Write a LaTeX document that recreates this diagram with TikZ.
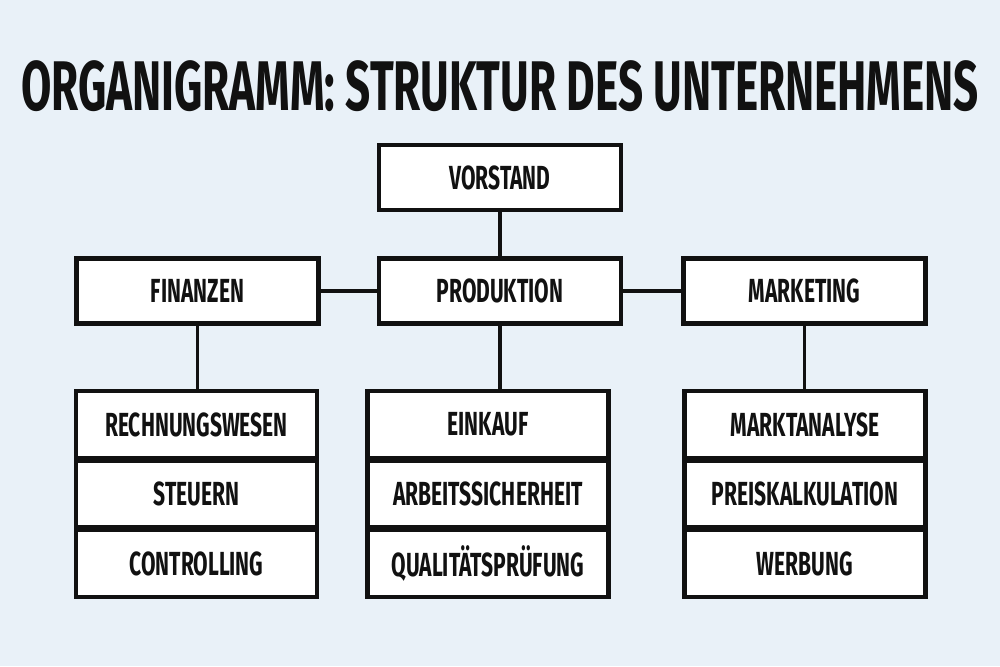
\documentclass[tikz,border=0pt]{standalone}
\usepackage{fontspec}
\setmainfont{Fira Sans}
\newfontfamily\titlefont{Fira Sans}[FakeStretch=0.625]
\newfontfamily\boxfont{Fira Sans}[FakeStretch=0.63]
\usetikzlibrary{positioning}
\definecolor{bg}{HTML}{E9F1F8}
\definecolor{ink}{HTML}{111111}
\tikzset{
  unit/.style={draw=ink, fill=white, line width=2.3pt, minimum width=48.4mm, minimum height=13mm, inner sep=0pt, text=ink, font=\boxfont\bfseries\fontsize{19}{19}\selectfont},
  cell/.style={unit, minimum width=48.2mm, minimum height=13.4mm},
  link/.style={draw=ink, line width=2pt},
  headline/.style={text=ink, font=\titlefont\bfseries\fontsize{40}{40}\selectfont},
}
\begin{document}
\begin{tikzpicture}[x=0.2mm, y=-0.2mm]
  \fill[bg] (0,0) rectangle (1000,666);
  \useasboundingbox (0,0) rectangle (1000,666);

  \node[headline] (title) at (500,86) {ORGANIGRAMM: STRUKTUR DES UNTERNEHMENS};

  % top levels
  \node[unit] (vor) at (500,177.5) {VORSTAND};
  \node[unit] (fin) at (197.5,291) {FINANZEN};
  \node[unit] (prod) at (500,291) {PRODUKTION};
  \node[unit] (mkt) at (804.5,291) {MARKETING};

  % departments
  \node[cell] (rw) at (196.5,424.5) {RECHNUNGSWESEN};
  \node[cell] (st) at (196.5,494) {STEUERN};
  \node[cell] (co) at (196.5,563.5) {CONTROLLING};

  \node[cell] (ein) at (488,424.5) {EINKAUF};
  \node[cell] (as) at (488,494) {ARBEITSSICHERHEIT};
  \node[cell] (qp) at (488,563.5) {QUALITÄTSPRÜFUNG};

  \node[cell] (ma) at (805,424.5) {MARKTANALYSE};
  \node[cell] (pk) at (805,494) {PREISKALKULATION};
  \node[cell] (wb) at (805,563.5) {WERBUNG};

  \draw[link] (vor) -- (prod);
  \draw[link] (fin) -- (prod);
  \draw[link] (prod) -- (mkt);
  \draw[link] (fin.south) -- (fin.south |- rw.north);
  \draw[link] (prod.south) -- (prod.south |- ein.north);
  \draw[link] (mkt.south) -- (mkt.south |- ma.north);
\end{tikzpicture}
\end{document}
